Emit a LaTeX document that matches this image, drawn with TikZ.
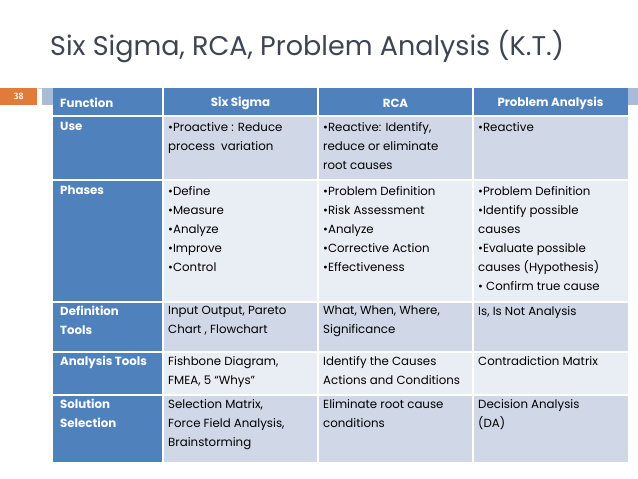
\documentclass[tikz,border=0pt]{standalone}
\usepackage{fontspec}
\setmainfont{Poppins}
\definecolor{hb}{HTML}{4F81BD}
\definecolor{ca}{HTML}{D0D8E8}
\definecolor{cb}{HTML}{E9EDF4}
\definecolor{tt}{HTML}{3E4452}
\definecolor{or}{HTML}{E07B39}
\definecolor{lb}{HTML}{A9BCD6}
\begin{document}
\begin{tikzpicture}[x=1pt,y=-1pt,
 cell/.style={anchor=north west,align=left,inner sep=0pt,font=\fontsize{11.8}{19}\selectfont,text=black},
 hcell/.style={font=\fontsize{11.8}{19}\selectfont\bfseries,text=white,inner sep=0pt},
 fcell/.style={anchor=north west,align=left,inner sep=0pt,font=\fontsize{11.8}{19}\selectfont\bfseries,text=white}]
\useasboundingbox (0,0) rectangle (638,479);
\fill[white] (0,0) rectangle (638,479);
\node[text=tt,font=\fontsize{27}{30}\selectfont,anchor=west,inner sep=0pt] (title) at (50,47) {Six Sigma, RCA, Problem Analysis (K.T.)};
\draw[lb!70,line width=0.8pt] (38,88) -- (638,88);
\fill[or] (0,88) rectangle (37,105);
\node[text=white,font=\sffamily\bfseries\fontsize{9}{10}\selectfont] (pg) at (18.5,96.5) {38};
\fill[lb] (42,88) rectangle (53,105);
\fill[lb] (628,88) rectangle (638,105);
% fills
\fill[hb] (53,88) rectangle (628,116);
\fill[hb] (53,116) rectangle (163,462);
\fill[ca] (163,116) rectangle (628,180);
\fill[cb] (163,180) rectangle (628,302);
\fill[ca] (163,302) rectangle (628,352);
\fill[cb] (163,352) rectangle (628,395);
\fill[ca] (163,395) rectangle (628,462);
\foreach \y in {116,180,302,352,395} \draw[white,line width=1.2pt] (53,\y) -- (628,\y);
\foreach \x in {163,318,473} \draw[white,line width=1.2pt] (\x,88) -- (\x,462);
% header
\node[hcell,anchor=west] (h0) at (60,103) {Function};
\node[hcell] (h1) at (240.5,103) {Six Sigma};
\node[hcell] (h2) at (395.5,103) {RCA};
\node[hcell] (h3) at (550.5,103) {Problem Analysis};
% first column
\node[fcell] (r1) at (60,122) {Use};
\node[fcell] (r2) at (60,186) {Phases};
\node[fcell] (r3) at (60,306) {Definition\\Tools};
\node[fcell] (r4) at (60,356) {Analysis Tools};
\node[fcell] (r5) at (60,399) {Solution\\Selection};
% row 1
\node[cell] (a1) at (168,122) {•Proactive : Reduce\\process\ \ variation};
\node[cell] (b1) at (323,122) {•Reactive: Identify,\\reduce or eliminate\\root causes};
\node[cell] (c1) at (478,122) {•Reactive};
% row 2
\node[cell] (a2) at (168,186) {•Define\\•Measure\\•Analyze\\•Improve\\•Control};
\node[cell] (b2) at (323,186) {•Problem Definition\\•Risk Assessment\\•Analyze\\•Corrective Action\\•Effectiveness};
\node[cell] (c2) at (478,186) {•Problem Definition\\•Identify possible\\causes\\•Evaluate possible\\causes (Hypothesis)\\• Confirm true cause};
% row 3
\node[cell] (a3) at (168,306) {Input Output, Pareto\\Chart , Flowchart};
\node[cell] (b3) at (323,306) {What, When, Where,\\Significance};
\node[cell] (c3) at (478,306) {Is, Is Not Analysis};
% row 4
\node[cell] (a4) at (168,356) {Fishbone Diagram,\\FMEA, 5 “Whys”};
\node[cell] (b4) at (323,356) {Identify the Causes\\Actions and Conditions};
\node[cell] (c4) at (478,356) {Contradiction Matrix};
% row 5
\node[cell] (a5) at (168,399) {Selection Matrix,\\Force Field Analysis,\\Brainstorming};
\node[cell] (b5) at (323,399) {Eliminate root cause\\conditions};
\node[cell] (c5) at (478,399) {Decision Analysis\\(DA)};
\end{tikzpicture}
\end{document}
